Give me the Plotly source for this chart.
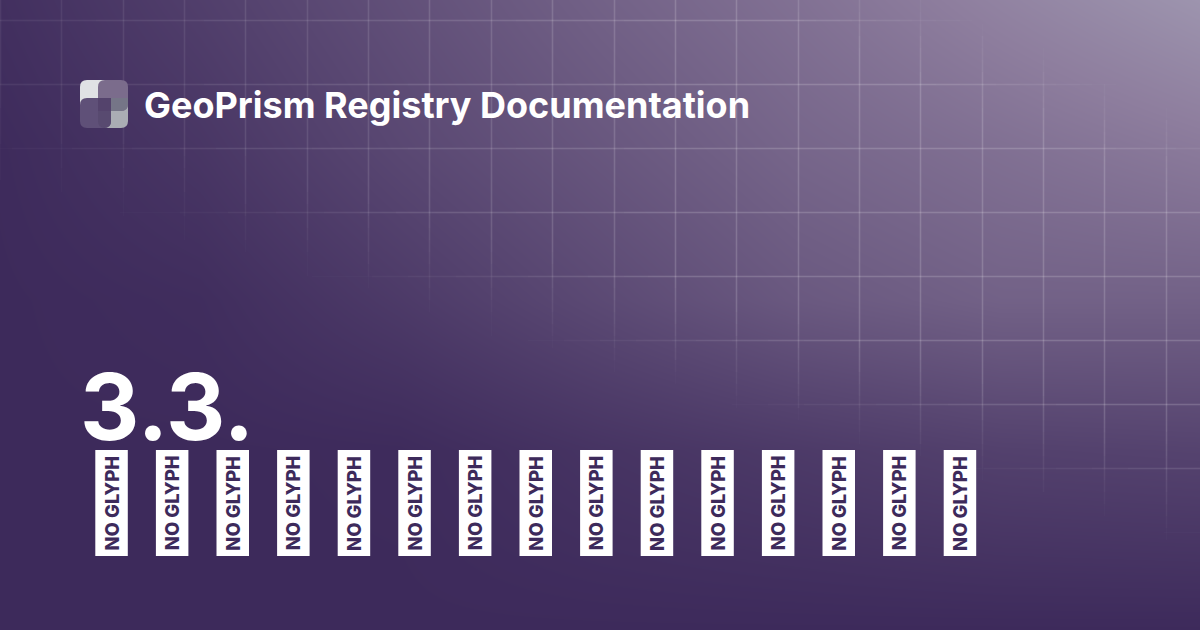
import plotly.graph_objects as go

# Text content
site_title = "GeoPrism Registry Documentation"
section_number = "3.3."
missing_labels = ["NO GLYPH"] * 15

# Background lightness (red channel) sampled on a coarse lattice
bg_x = [0, 200, 400, 600, 800, 1000, 1200]
bg_y = [0, 150, 300, 450, 630]
bg_level = [
    [66, 80, 96, 112, 126, 142, 157],
    [62, 72, 88, 102, 116, 125, 134],
    [61, 64, 76, 90, 104, 112, 112],
    [61, 61, 62, 70, 76, 82, 84],
    [61, 61, 61, 61, 61, 61, 61],
]
bg_scale = [[0, "#3D2A5B"], [0.5, "#6F5E84"], [0.8, "#8E7E9E"], [1, "#9D94AE"]]

W, H = 1200, 630
GRID_DX, GRID_DY = 61.35, 64
GRID_X0, GRID_Y0 = 0.5, 20
SEG = 12


def clamp(v):
    return max(0.0, min(1.0, v))


def grid_alpha(x, y):
    low = clamp((190 + 0.3 * x - y) / 110)
    corner = clamp((y - 0.45 * (x - 850) + 40) / 90)
    strength = 0.06 + 0.11 * clamp(x / 700)
    return low * corner * strength


buckets = {}


def add_seg(x0, y0, x1, y1):
    a = grid_alpha((x0 + x1) / 2, (y0 + y1) / 2)
    k = round(a * 60)
    if k > 0:
        b = buckets.setdefault(k, ([], []))
        b[0].extend([x0, x1, None])
        b[1].extend([y0, y1, None])


n_cols = int((W - GRID_X0) / GRID_DX) + 1
n_rows = int((H - GRID_Y0) / GRID_DY) + 1
for i in range(n_cols):
    x = int(GRID_X0 + i * GRID_DX) + 0.5
    y = 0
    while y < H:
        add_seg(x, y, x, min(y + SEG, H))
        y += SEG
for j in range(n_rows):
    y = int(GRID_Y0 + j * GRID_DY) + 0.5
    x = 0
    while x < W:
        add_seg(x, y, min(x + SEG, W), y)
        x += SEG


def rrect(x0, y0, x1, y1, tl, tr, br, bl, color):
    p = (f"M {x0+tl} {y0} L {x1-tr} {y0} Q {x1} {y0} {x1} {y0+tr} "
         f"L {x1} {y1-br} Q {x1} {y1} {x1-br} {y1} L {x0+bl} {y1} "
         f"Q {x0} {y1} {x0} {y1-bl} L {x0} {y0+tl} Q {x0} {y0} {x0+tl} {y0} Z")
    return dict(type="path", path=p, fillcolor=color, line=dict(width=0))


# Logo pieces
shapes = [
    rrect(80, 80, 112, 112, 7, 0, 0, 0, "#E0E2E4"),
    rrect(98, 98, 128, 128, 0, 0, 7, 0, "#AAADB4"),
    rrect(98, 80, 128, 111, 7, 7, 7, 0, "#7B6C8C"),
    rrect(80, 98, 111, 128, 7, 7, 7, 7, "#5F5078"),
    rrect(98, 98, 128, 111, 0, 0, 7, 0, "#757587"),
    rrect(98, 111, 111, 128, 0, 0, 7, 7, "#584A70"),
    rrect(98, 98, 111, 111, 0, 0, 0, 0, "#54436C"),
]

BOX_X0, BOX_STEP, BOX_W, BOX_TOP, BOX_BOTTOM = 95.3, 60.6, 32.5, 450, 556
annotations = [
    dict(x=142, y=105, text=site_title, xanchor="left", yanchor="middle", showarrow=False,
         font=dict(family="Inter", size=36, color="white", weight=700)),
    dict(x=77.5, y=406, text=section_number, xanchor="left", yanchor="middle", showarrow=False,
         font=dict(family="Inter", size=92, color="white", weight=700)),
]
for i, label in enumerate(missing_labels):
    x0 = BOX_X0 + i * BOX_STEP
    shapes.append(dict(type="rect", x0=x0, x1=x0 + BOX_W, y0=BOX_TOP, y1=BOX_BOTTOM,
                       fillcolor="white", line=dict(width=0)))
    annotations.append(dict(x=x0 + BOX_W / 2, y=(BOX_TOP + BOX_BOTTOM) / 2, text=label, textangle=-90,
                            xanchor="center", yanchor="middle", showarrow=False,
                            font=dict(family="Inter", size=18.5, color="#3D2A5B", weight=800)))

fig = go.Figure(go.Heatmap(x=bg_x, y=bg_y, z=bg_level, zmin=61, zmax=157, colorscale=bg_scale,
                           zsmooth="best", showscale=False, hoverinfo="skip"))
for k, (xs, ys) in sorted(buckets.items()):
    fig.add_trace(go.Scatter(x=xs, y=ys, mode="lines", hoverinfo="skip",
                             line=dict(color=f"rgba(255,255,255,{k / 60:.3f})", width=1.6)))
fig.update_layout(
    width=W, height=H, margin=dict(l=0, r=0, t=0, b=0),
    paper_bgcolor="#3D2A5B", plot_bgcolor="#3D2A5B",
    xaxis=dict(range=[0, W], visible=False, fixedrange=True),
    yaxis=dict(range=[H, 0], visible=False, fixedrange=True),
    shapes=shapes, annotations=annotations, showlegend=False,
)
fig.write_html("out.html", config=dict(displayModeBar=False),
               post_script="document.body.style.margin='0';document.body.style.overflow='hidden';")
